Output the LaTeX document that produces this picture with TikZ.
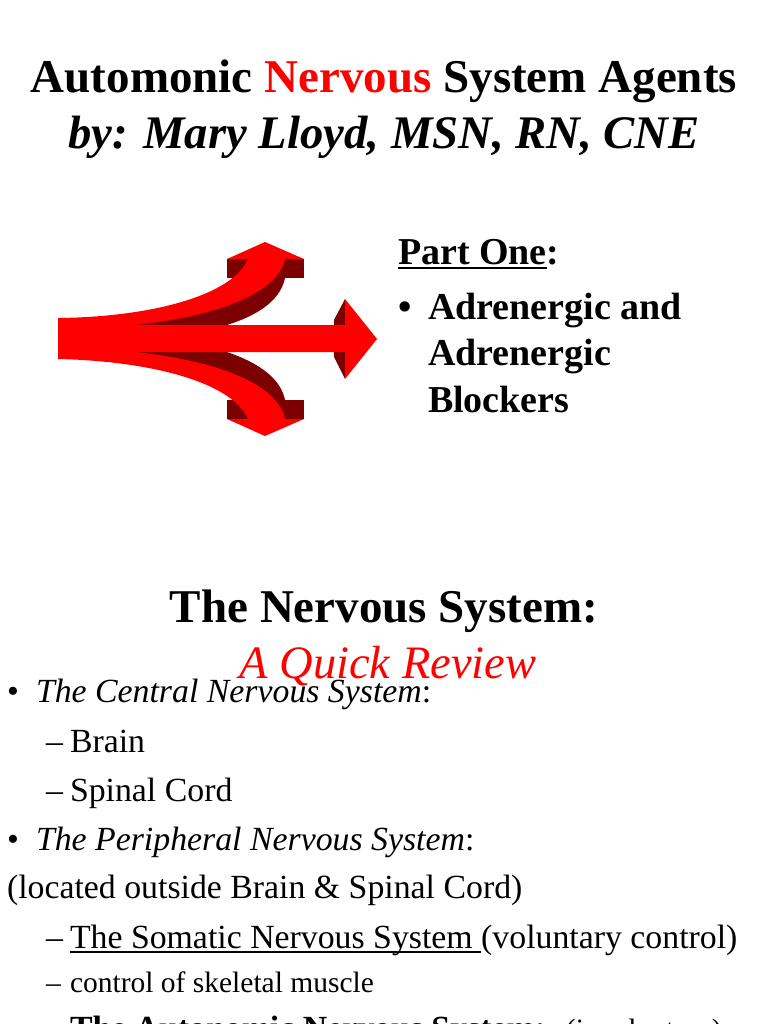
\documentclass[tikz,border=0pt]{standalone}
\usepackage{fontspec}
\setmainfont{Liberation Serif}
\definecolor{arrowred}{RGB}{255,0,0}
\definecolor{arrowdark}{RGB}{125,0,0}
\newcommand{\fs}[1]{\fontsize{#1}{#1}\selectfont}
\newlength\ulw
\newcommand{\ulb}[1]{\settowidth\ulw{#1}\rlap{\rule[-4.5pt]{\ulw}{2pt}}#1}
\tikzset{
  txt/.style={anchor=base west,inner sep=0pt,outer sep=0pt,text=black},
  ctr/.style={anchor=base,inner sep=0pt,outer sep=0pt,text=black},
  title/.style={ctr,font=\fs{47}\bfseries},
  part/.style={txt,font=\fs{38}\bfseries},
  body/.style={txt,font=\fs{33.8}},
  small/.style={txt,font=\fs{29.5}},
  red part/.style={fill=arrowred,draw=none},
  dark part/.style={fill=arrowdark,draw=none}
}
\begin{document}
\begin{tikzpicture}[x=1pt,y=-1pt]
\useasboundingbox (0,0) rectangle (768,1024);
\clip (0,0) rectangle (768,1024);
% arrow: dark faces
\fill[dark part] (227,259) rectangle (304,278);
\fill[dark part] (227,400) rectangle (304,419);
\fill[dark part] (345,299) -- (334,320) -- (334,357) -- (345,379) -- cycle;
\fill[dark part] (130,325) -- (227,325) .. controls (262,314) and (281,298) .. (285,278) -- (285,259) -- (250,290) -- cycle;
\fill[dark part] (130,352) -- (227,352) .. controls (262,364) and (281,380) .. (285,400) -- (285,419) -- (250,390) -- cycle;
% arrow: red faces
\fill[red part] (58,318) .. controls (150,317) and (232,296) .. (248,259) -- (285,259)
  .. controls (278,292) and (220,316) .. (135,325) -- (345,325) -- (345,299) -- (377,339)
  -- (345,379) -- (345,352) -- (135,352) .. controls (220,361) and (278,385) .. (285,419)
  -- (248,419) .. controls (232,382) and (150,361) .. (58,359) -- cycle;
\fill[red part] (227,259) -- (265,242) -- (304,259) -- cycle;
\fill[red part] (227,419) -- (265,436) -- (304,419) -- cycle;
% texts
\node[title] (t1) at (384,93) {Automonic \textcolor{arrowred}{Nervous} System Agents};
\node[title,font=\fs{46.7}\bfseries\itshape] (t2) at (384,149) {by: Mary Lloyd, MSN, RN, CNE};
\node[part] (p1) at (398,264) {\ulb{Part One}:};
\node[part] (p2b) at (398,319) {•};
\node[part] (p2) at (428,319) {Adrenergic and};
\node[part] (p3) at (428,365) {Adrenergic};
\node[part] (p4) at (428,412) {Blockers};
\node[title] (h1) at (384,622) {The Nervous System:};
\node[ctr,font=\fs{46.5}\itshape,text=arrowred] (h2) at (388,678) {A Quick Review};
\node[body] (b1m) at (7,702) {•};
\node[body] (b1) at (36,702) {\textit{The Central Nervous System}:};
\node[body] (b2m) at (46,752) {–};
\node[body] (b2) at (70,752) {Brain};
\node[body] (b3m) at (46,801) {–};
\node[body] (b3) at (70,801) {Spinal Cord};
\node[body] (b4m) at (7,850) {•};
\node[body] (b4) at (36,850) {\textit{The Peripheral Nervous System}:};
\node[body] (b5) at (7,898) {(located outside Brain \& Spinal Cord)};
\node[body] (b6m) at (46,948) {–};
\node[body] (b6) at (70,948) {\ulb{The Somatic Nervous System\ }(voluntary control)};
\node[small] (b7m) at (46,992) {–};
\node[small] (b7) at (70,992) {control of skeletal muscle};
\node[body] (b8m) at (46,1039) {–};
\node[body] (b8) at (70,1039) {\textbf{The Autonomic Nervous System:}\hspace{20pt}{\fs{29.5}(involuntary)}};
\end{tikzpicture}
\end{document}
